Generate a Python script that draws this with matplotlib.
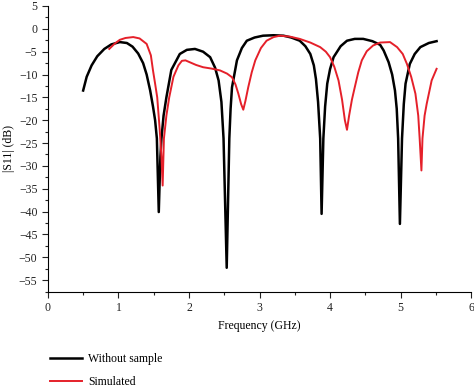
import numpy as np
import matplotlib.pyplot as plt
from matplotlib.ticker import MultipleLocator

# Without sample (black)
freq_ws = [0.50, 0.55, 0.62, 0.70, 0.80, 0.90, 1.02, 1.12, 1.20, 1.28, 1.35, 1.40, 1.45, 1.49, 1.52,
           1.545, 1.572, 1.595, 1.61, 1.64, 1.68, 1.75, 1.87, 1.97, 2.085, 2.20, 2.30, 2.37,
           2.42, 2.46, 2.49, 2.535, 2.572, 2.59, 2.61, 2.68, 2.75, 2.82, 2.93, 3.05, 3.20,
           3.34, 3.45, 3.57, 3.65, 3.72, 3.77, 3.80, 3.83, 3.86, 3.88, 3.905, 3.93, 3.96,
           4.00, 4.05, 4.15, 4.24, 4.35, 4.47, 4.60, 4.71, 4.76, 4.83, 4.88, 4.92, 4.945,
           4.965, 4.99, 5.02, 5.045, 5.07, 5.13, 5.20, 5.28, 5.40, 5.51]
s11_ws = [-13.5, -10.5, -8.0, -6.0, -4.4, -3.4, -2.9, -3.1, -3.9, -5.4, -7.5, -10.0, -13.5, -17.0, -20.0,
          -24.0, -40.1, -28.0, -24.0, -19.0, -15.0, -9.0, -5.5, -4.6, -4.4, -5.0, -6.2, -8.5,
          -11.3, -16.0, -24.0, -52.3, -24.0, -17.5, -12.8, -6.9, -4.2, -2.6, -1.9, -1.5, -1.4,
          -1.5, -1.9, -2.6, -3.8, -5.5, -8.0, -11.0, -16.0, -24.0, -40.5, -24.0, -17.0, -12.0,
          -8.8, -6.2, -3.8, -2.6, -2.2, -2.2, -2.7, -3.5, -4.75, -7.3, -10.0, -13.5, -17.5,
          -24.0, -42.7, -24.0, -16.5, -12.0, -7.7, -5.5, -4.0, -3.1, -2.7]

# Simulated (red)
freq_sim = [0.87, 0.95, 1.02, 1.10, 1.21, 1.30, 1.40, 1.46, 1.49, 1.52, 1.55, 1.585, 1.61, 1.627,
            1.645, 1.68, 1.72, 1.78, 1.85, 1.90, 1.95, 2.01, 2.10, 2.20, 2.32, 2.44, 2.54,
            2.61, 2.66, 2.70, 2.74, 2.77, 2.80, 2.84, 2.89, 2.94, 3.02, 3.10, 3.20, 3.29, 3.43,
            3.57, 3.72, 3.86, 3.94, 4.00, 4.06, 4.12, 4.17, 4.21, 4.24, 4.27, 4.31, 4.35, 4.40,
            4.45, 4.52, 4.61, 4.71, 4.85, 4.95, 5.03, 5.09, 5.15, 5.21, 5.25, 5.27, 5.295, 5.31,
            5.34, 5.37, 5.44, 5.51]
s11_sim = [-4.4, -3.2, -2.4, -2.0, -1.8, -2.1, -3.3, -5.8, -9.1, -12.0, -15.0, -22.0, -28.0, -34.3,
           -24.0, -19.0, -15.0, -10.5, -8.0, -7.0, -6.9, -7.3, -7.9, -8.4, -8.7, -9.1, -9.8,
           -10.6, -12.2, -14.2, -16.5, -17.7, -15.8, -12.8, -9.5, -6.9, -4.2, -2.6, -1.8, -1.5, -1.7,
           -2.2, -3.0, -4.0, -5.0, -6.2, -8.3, -11.3, -15.5, -20.0, -22.1, -19.0, -15.5, -12.8, -9.5,
           -6.9, -4.9, -3.65, -3.0, -2.9, -4.0, -5.5, -7.7, -10.5, -14.2, -19.0, -24.0, -31.0, -24.0,
           -19.0, -16.4, -11.3, -8.75]

plt.rcParams['font.family'] = ['Liberation Serif', 'DejaVu Serif']
fs = 8.5

fig = plt.figure(figsize=(4.74, 3.87), dpi=100)
ax = fig.add_axes([0.101, 0.2455, 0.893, 0.739])

l1, = ax.plot(freq_ws, s11_ws, color='black', linewidth=1.8, label='Without sample')
l2, = ax.plot(freq_sim, s11_sim, color='#e5202a', linewidth=1.4, label='Simulated')

ax.set_xlim(0, 6)
ax.set_ylim(-57.6, 5)
ax.xaxis.set_major_locator(MultipleLocator(1))
ax.xaxis.set_minor_locator(MultipleLocator(0.5))
ax.yaxis.set_minor_locator(MultipleLocator(2.5))
ax.set_yticks(np.arange(-55, 6, 5))

ax.spines['top'].set_visible(False)
ax.spines['right'].set_visible(False)
ax.tick_params(which='major', length=4, width=0.8, labelsize=fs, colors='#222222')
ax.tick_params(which='minor', length=2.5, width=0.8, colors='#222222')

ax.set_xlabel('Frequency (GHz)', fontsize=fs, labelpad=4)
ax.set_ylabel('|S11| (dB)', fontsize=fs, labelpad=3)

fig.legend(handles=[l1, l2], loc='upper left', bbox_to_anchor=(0.096, 0.1),
           frameon=False, fontsize=fs, handlelength=2.7, handletextpad=0.5,
           labelspacing=0.9, borderaxespad=0)

fig.savefig('out.png', dpi=100)
